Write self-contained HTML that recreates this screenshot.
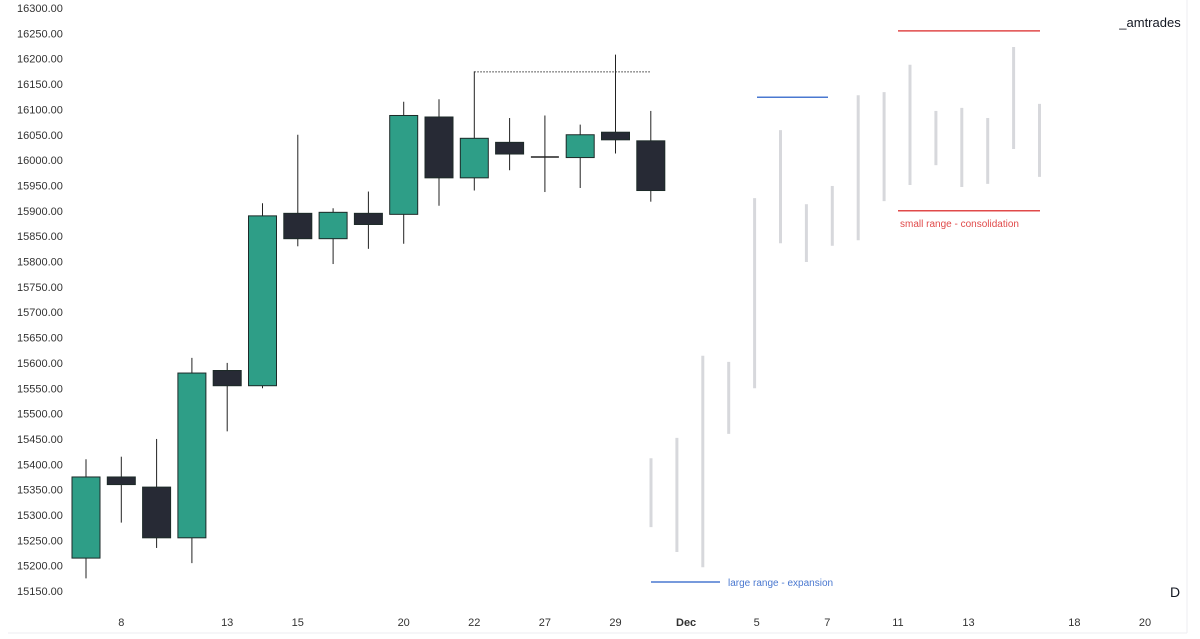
<!DOCTYPE html>
<html><head><meta charset="utf-8"><style>
body{margin:0;background:#fff;}
svg{display:block;font-family:"Liberation Sans",sans-serif;}
</style></head><body>
<svg id="chart" width="1200" height="639" xmlns="http://www.w3.org/2000/svg">
<rect x="0" y="0" width="1200" height="639" fill="#fff"/>
<line x1="8" y1="633" x2="1187" y2="633" stroke="#eceef2"/>
<line x1="1187" y1="0" x2="1187" y2="633" stroke="#eceef2"/>
<g id="yaxis"></g>
<g id="xaxis"></g>
<g id="ranges"></g>
<g id="candles"></g>
<g id="annot"></g>
<text x="1150" y="27" font-size="13" fill="#131722" text-anchor="middle">_amtrades</text>
<text x="1175" y="597" font-size="14" fill="#131722" text-anchor="middle">D</text>
</svg>
<script>
const yTicks=[16300,16250,16200,16150,16100,16050,16000,15950,15900,15850,15800,15750,15700,15650,15600,15550,15500,15450,15400,15350,15300,15250,15200,15150];
const xLabels=["8","13","15","20","22","27","29","Dec","5","7","11","13","18","20"];
const xLabelSlots=[1,4,6,9,11,13,15,17,19,21,23,25,28,30];
const opens=[15215,15375,15355,15255,15585,15555,15895,15845,15895,15893,16085,15965,16035,16006,16005,16055,16038];
const closes=[15375,15360,15255,15580,15555,15890,15845,15897,15873,16088,15965,16043,16012,16006,16050,16040,15940];
const highs=[15410,15415,15450,15610,15600,15915,16050,15905,15938,16115,16120,16175,16083,16088,16070,16208,16097];
const lows=[15175,15285,15235,15205,15465,15550,15830,15795,15825,15835,15910,15940,15980,15937,15945,16013,15918];
const rangeHighs=[15412,15452,15614,15602,15925,16059,15913,15949,16128,16134,16188,16097,16103,16083,16223,16111];
const rangeLows=[15276,15227,15197,15460,15550,15836,15799,15831,15842,15919,15951,15990,15947,15953,16022,15967];
const NS="http://www.w3.org/2000/svg";
function y(v){return 8+(16300-v)/50*25.35;}
function x(i){return 86+i*35.3;}
function xr(i){return 651+i*25.9;}
function mk(tag,attrs,parent,txt){const e=document.createElementNS(NS,tag);for(const k in attrs)e.setAttribute(k,attrs[k]);if(txt!==undefined)e.textContent=txt;parent.appendChild(e);return e;}
const ya=document.getElementById('yaxis');
yTicks.forEach(v=>{const t=mk('text',{x:17,y:y(v)+4,'font-size':11,fill:'#333'},ya,v.toFixed(2));

});
const xa=document.getElementById('xaxis');
xLabels.forEach((l,i)=>{const t=mk('text',{x:x(xLabelSlots[i]),y:626,'font-size':11,fill:'#333','text-anchor':'middle','font-weight':l==='Dec'?'bold':'normal'},xa,l);

});
const rg=document.getElementById('ranges');
rangeHighs.forEach((h,i)=>{const l=mk('line',{x1:xr(i),x2:xr(i),y1:y(h),y2:y(rangeLows[i]),stroke:'#d7d8dc','stroke-width':3},rg);

});
const cg=document.getElementById('candles');
opens.forEach((o,i)=>{const c=closes[i],up=c>o;const g=mk('g',{},cg);


mk('line',{x1:x(i),x2:x(i),y1:y(highs[i]),y2:y(lows[i]),stroke:'#222','stroke-width':1},g);
const top=y(Math.max(o,c)),bot=y(Math.min(o,c));
if(Math.abs(o-c)<2){mk('line',{x1:x(i)-14,x2:x(i)+14,y1:top,y2:top,stroke:'#222','stroke-width':1.5},g);}
else mk('rect',{x:x(i)-14,y:top,width:28,height:Math.max(1,bot-top),fill:up?'#2e9e87':'#272a35',stroke:'#1d2a28','stroke-width':1},g);});
const an=document.getElementById('annot');
const a=[
['line',{x1:x(11),x2:x(16),y1:y(16174),y2:y(16174),stroke:'#333','stroke-dasharray':'1.5 1.5'},'high-dotted-line'],
['line',{x1:757,x2:828,y1:y(16124),y2:y(16124),stroke:'#4a78d0','stroke-width':1.5},'blue-level-line'],
['line',{x1:898,x2:1040,y1:y(16255),y2:y(16255),stroke:'#e04a4a','stroke-width':1.5},'range-top-line'],
['line',{x1:898,x2:1040,y1:y(15900),y2:y(15900),stroke:'#e04a4a','stroke-width':1.5},'range-bottom-line'],
['line',{x1:651,x2:720,y1:582,y2:582,stroke:'#4a78d0','stroke-width':1.5},'expansion-line']];
a.forEach(d=>{const e=mk(d[0],d[1],an);

});
const t1=mk('text',{x:900,y:227,'font-size':10,fill:'#e04a4a'},an,'small range - consolidation');


const t2=mk('text',{x:728,y:586,'font-size':10,fill:'#4a78d0'},an,'large range - expansion');


</script>
</body></html>
